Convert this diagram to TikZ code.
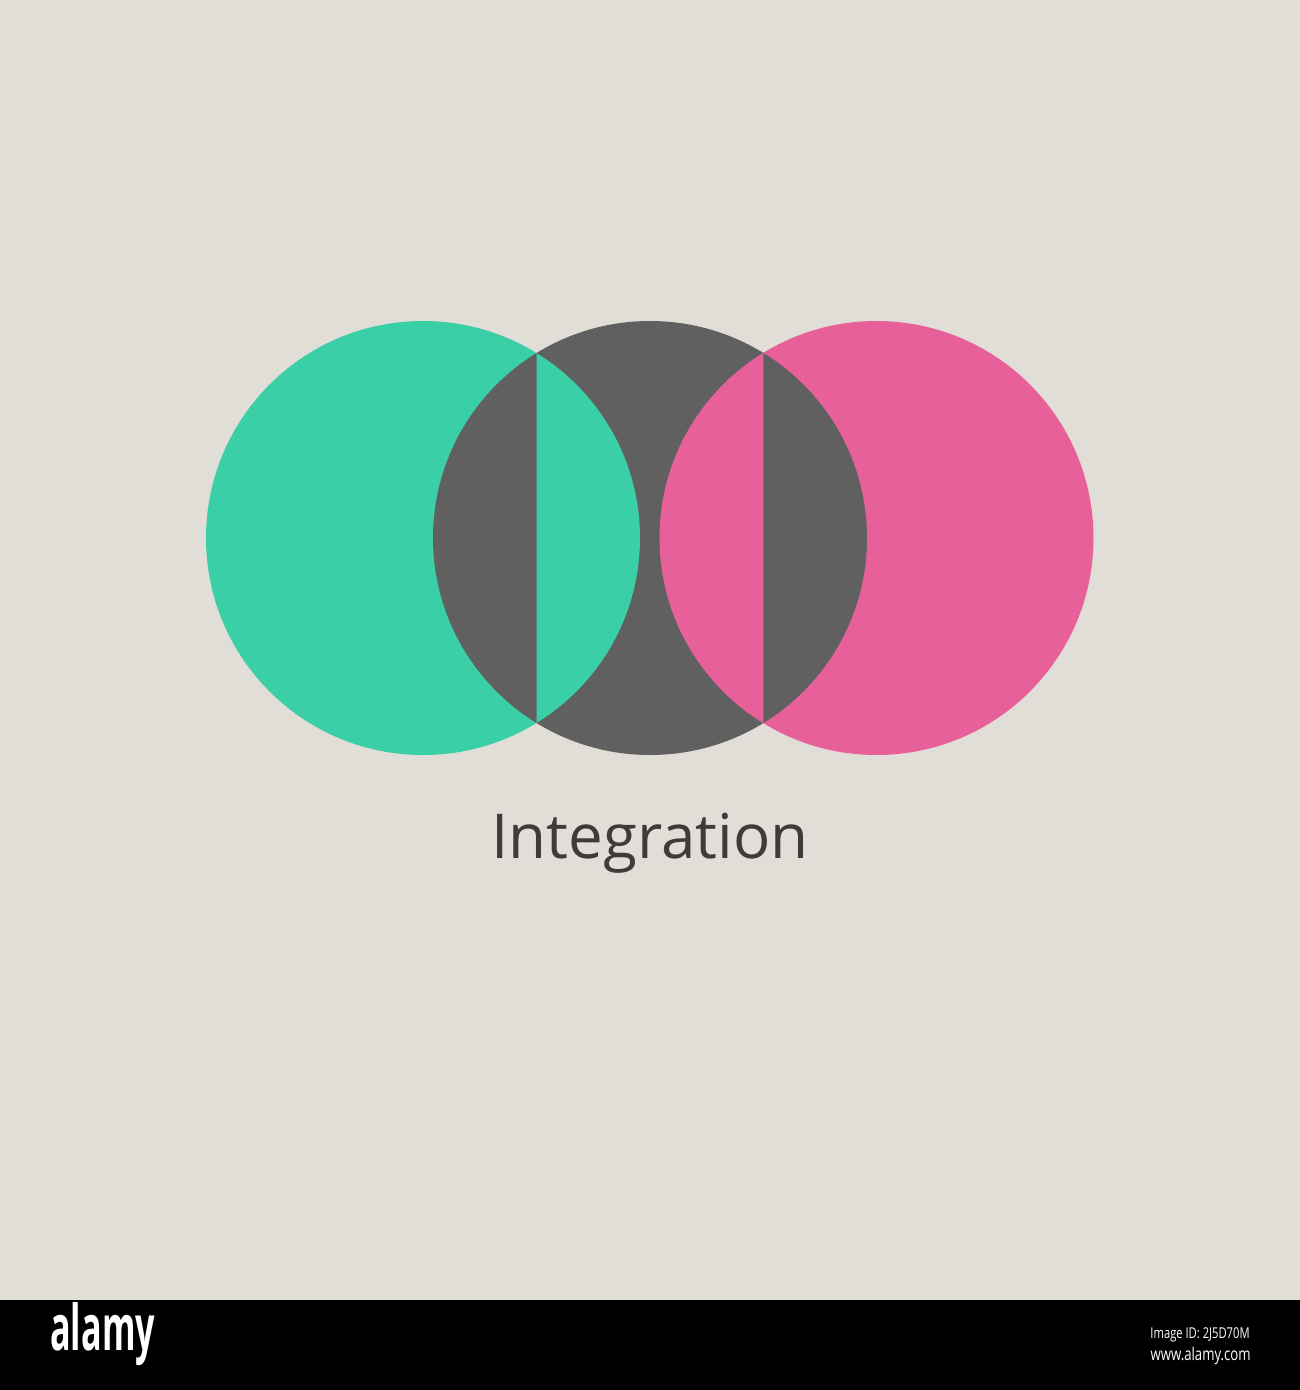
\documentclass[tikz,border=0pt]{standalone}
\usepackage{fontspec}
\setmainfont{Open Sans}
\newfontfamily\barfont{Open Sans}
\definecolor{bgc}{HTML}{E1DDD7}
\definecolor{teal1}{HTML}{3ACFA6}
\definecolor{pink1}{HTML}{E8609A}
\definecolor{grey1}{HTML}{606060}
\definecolor{txt}{HTML}{3F3B38}
\tikzset{
  disc/.style={fill=#1, draw=none},
  label1/.style={text=txt, inner sep=0pt, anchor=base, font=\fontsize{35.2}{40}\selectfont},
  bartext/.style={text=white, inner sep=0pt, font=\barfont\fontsize{8.5}{10}\selectfont}
}
\begin{document}
\begin{tikzpicture}[x=0.02cm, y=-0.02cm]
\useasboundingbox (0,0) rectangle (1300,1390);
\fill[bgc] (0,0) rectangle (1300,1300);
\fill[black] (0,1300) rectangle (1300,1390);
% circles
\coordinate (cl) at (423,538);
\coordinate (cm) at (650,538);
\coordinate (cr) at (876.5,538);
\fill[disc=teal1] (cl) circle (217);
\fill[disc=pink1] (cr) circle (217);
\fill[disc=grey1] (cm) circle (217);
\begin{scope}
  \clip (536.5,0) rectangle (1300,1300);
  \fill[disc=teal1] (cl) circle (217);
\end{scope}
\begin{scope}
  \clip (0,0) rectangle (763.3,1300);
  \fill[disc=pink1] (cr) circle (217);
\end{scope}
\node[label1] (title) at (650,858) {Integration};
% bottom bar
\node[inner sep=0pt, anchor=south west, text=white] (logo) at (50,1366)
  {\scalebox{0.54}[1]{\barfont\bfseries\fontsize{36}{40}\selectfont alamy}};
\node[bartext, anchor=base east] (imgid) at (1250,1338)
  {\scalebox{0.75}[1]{Image ID: 2J5D70M}};
\node[bartext, anchor=base east] (web) at (1251,1360)
  {\scalebox{0.75}[1]{\fontsize{10}{12}\selectfont www.alamy.com}};
\end{tikzpicture}
\end{document}
